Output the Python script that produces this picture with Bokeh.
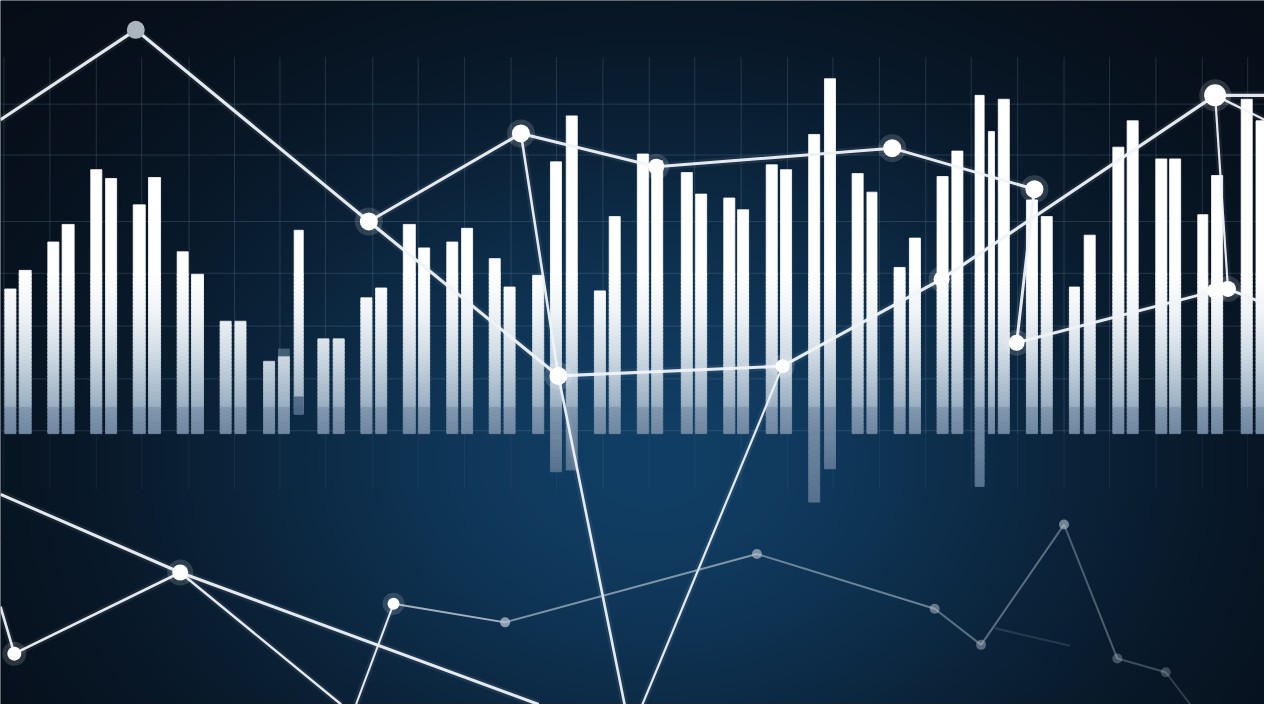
import numpy as np
from bokeh.plotting import figure
from bokeh.models import Range1d
from bokeh.embed import file_html
from bokeh.resources import INLINE

# ---------------- data (pixel units, y downward) ----------------
bar_x = [10, 25, 53.5, 68.5, 97, 112, 140.5, 156, 184.5, 199.5, 228, 243, 272, 287, 302,
         327, 342.5, 370.5, 385.5, 414, 429, 457.5, 472.5, 500.5, 515.5, 544.5, 562.5, 578.5,
         607, 622, 650.5, 665, 695, 709.5, 738, 752, 781, 795.5, 824, 840, 868, 882.5,
         910.5, 926, 954, 969, 991.5, 1003.5, 1016, 1044.5, 1059.5, 1087.5, 1103, 1132,
         1146.5, 1175.5, 1189.5, 1217.5, 1232, 1262, 1276]
bar_w = [12, 13, 12, 13, 12, 12, 13, 13, 12, 13, 12, 12, 12, 12, 10,
         12, 12, 12, 12, 13, 12, 12, 12, 12, 12, 12, 12, 12,
         12, 12, 12, 12, 12, 12, 12, 12, 12, 12, 12, 12, 12, 11,
         12, 12, 12, 12, 10, 7, 12, 12, 12, 11, 12, 12,
         12, 12, 12, 11, 12, 12, 10]
bar_top = [295, 276, 247, 229, 173, 182, 209, 181, 257, 280, 328, 328, 369, 364, 235,
           346, 346, 304, 294, 229, 253, 247, 233, 264, 293, 281, 165, 118,
           297, 221, 157, 164, 176, 198, 202, 214, 168, 173, 137, 80, 177, 196,
           273, 243, 180, 154, 97, 134, 101, 204, 221, 293, 240, 150,
           123, 162, 162, 219, 179, 101, 123]
bar_base = [443] * len(bar_x)
bar_base[14] = 423
bar_low = list(bar_base)
bar_low[26] = 482
bar_low[27] = 480
bar_low[38] = 513
bar_low[39] = 479
bar_low[46] = 497

grid_x = [3.5, 50, 97, 143, 191, 237, 283, 329, 377, 423, 470, 517, 563, 610, 657, 703,
          750, 797, 843, 890, 937, 983, 1030, 1077, 1123, 1170, 1217, 1263]
grid_y = [106, 158, 226, 279, 333, 387, 440]

# upper network
line_a_x = [0, 137, 373, 565, 792, 953, 1230, 1280]
line_a_y = [122, 30, 226, 384, 374, 285, 97, 97]
line_b_x = [373, 527, 664, 903, 1047, 1029, 1230, 1243, 1280]
line_b_y = [226, 136, 170, 151, 193, 350, 297, 295, 310]
line_c_x = [527, 565, 632]
line_c_y = [136, 384, 720]
line_d_x = [650, 792]
line_d_y = [720, 374]
line_e_x = [1230, 1243]
line_e_y = [97, 295]
line_f_x = [1230, 1280]
line_f_y = [97, 122]

# lower network
line_g_x = [0, 182, 545]
line_g_y = [505, 585, 720]
line_h_x = [182, 345]
line_h_y = [585, 720]
line_i_x = [0, 14, 182]
line_i_y = [620, 668, 585]
line_j_x = [360, 398]
line_j_y = [720, 617]
line_k_x = [398, 511, 766, 946, 993, 1077, 1131, 1180, 1205]
line_k_y = [617, 636, 566, 622, 659, 536, 673, 687, 720]
line_k_alpha = [0.8, 0.6, 0.5, 0.42, 0.42, 0.35, 0.28, 0.22]
faint_x = [1007, 1083]
faint_y = [642, 660]

node_x = [373, 527, 565, 664, 792, 903, 953, 1047, 1029, 1230, 1230, 1243, 182, 14, 398]
node_y = [226, 136, 384, 170, 374, 151, 285, 193, 350, 97, 297, 295, 585, 668, 617]
node_r = [9, 9, 9, 8, 7, 9, 8, 9, 8, 11, 8, 8, 8, 7, 6]
grey_node_x = [137]
grey_node_y = [30]
dim_node_x = [511, 766, 946, 993, 1077, 1131, 1180]
dim_node_y = [636, 566, 622, 659, 536, 673, 687]
dim_node_a = [0.75, 0.65, 0.5, 0.45, 0.6, 0.35, 0.3]

# ---------------- figure ----------------
p = figure(width=1264, height=704, x_range=Range1d(0, 1280), y_range=Range1d(720, 0),
           output_backend="svg", toolbar_location=None, min_border=0,
           x_axis_location=None, y_axis_location=None)
p.grid.visible = False
p.outline_line_color = None
p.background_fill_color = "#07101c"
p.border_fill_color = "#07101c"

# background radial glow
GH, GW = 180, 320
gy, gx = np.mgrid[0:GH, 0:GW]
px = (gx + 0.5) * (1280 / GW)
py = (gy + 0.5) * (720 / GH)
d2 = ((px - 660) / 600) ** 2 + ((py - 470) / 450) ** 2
t = np.exp(-1.5 * d2)
edge = np.array([6, 12, 21], dtype=float)
center = np.array([17, 62, 100], dtype=float)
rgb = edge + (center - edge) * t[..., None]
img = np.zeros((GH, GW), dtype=np.uint32)
view = img.view(dtype=np.uint8).reshape((GH, GW, 4))
view[..., 0] = rgb[..., 0].astype(np.uint8)
view[..., 1] = rgb[..., 1].astype(np.uint8)
view[..., 2] = rgb[..., 2].astype(np.uint8)
view[..., 3] = 255
p.image_rgba(image=[img], x=0, y=0, dw=1280, dh=720)

# grid
p.multi_line(xs=[[gx_, gx_] for gx_ in grid_x], ys=[[58, 443]] * len(grid_x),
             line_color="#8fb0cf", line_alpha=0.2, line_width=1)
p.multi_line(xs=[[gx_, gx_] for gx_ in grid_x], ys=[[443, 500]] * len(grid_x),
             line_color="#8fb0cf", line_alpha=0.09, line_width=1)
p.multi_line(xs=[[0, 1280]] * len(grid_y), ys=[[gy_, gy_] for gy_ in grid_y],
             line_color="#8fb0cf", line_alpha=0.2, line_width=1)


# bars with a vertical (absolute) gradient built from thin slices
def hex2rgb(h):
    h = h.lstrip("#")
    return np.array([int(h[i:i + 2], 16) for i in (0, 2, 4)], dtype=float)


stops_y = [0, 280, 320, 360, 395, 415, 416, 443]
stops_c = [hex2rgb(c) for c in ["#ffffff", "#ffffff", "#f0f4f7", "#d3dde6", "#afc0cf",
                                "#9bb0c3", "#8299b0", "#7088a1"]]


def col_at(y):
    r = np.interp(y, stops_y, [c[0] for c in stops_c])
    g = np.interp(y, stops_y, [c[1] for c in stops_c])
    b = np.interp(y, stops_y, [c[2] for c in stops_c])
    return "#%02x%02x%02x" % (int(r), int(g), int(b))


bands = [(0, 280)] + [(a, a + 4) for a in range(280, 444, 4)]
L, R, T, B, C = [], [], [], [], []
for xc, w, top, base in zip(bar_x, bar_w, bar_top, bar_base):
    for a, b in bands:
        t0 = max(a, top)
        b0 = min(b, base)
        if b0 > t0:
            L.append(xc - w / 2 + 0.4)
            R.append(xc + w / 2 - 0.4)
            T.append(t0)
            B.append(min(b0 + 1.0, base))
            C.append(col_at((t0 + b0) / 2))
p.quad(left=L, right=R, top=T, bottom=B, fill_color=C, line_color=C, line_width=0.8)

# extensions below the baseline
L, R, T, B, C = [], [], [], [], []
for xc, w, base, low in zip(bar_x, bar_w, bar_base, bar_low):
    if low > base:
        n = int(np.ceil((low - base) / 6))
        for k in range(n):
            a = base + 6 * k
            b = min(a + 6, low)
            f = (a - base) / max(low - base, 1)
            L.append(xc - w / 2 + 0.4)
            R.append(xc + w / 2 - 0.4)
            T.append(a)
            B.append(min(b + 1.0, low))
            c = (1 - f) * hex2rgb("#6f87a0") + f * hex2rgb("#56718e")
            C.append("#%02x%02x%02x" % tuple(int(v) for v in c))
p.quad(left=L, right=R, top=T, bottom=B, fill_color=C, line_color=C, line_width=0.8)

# floating bar's lower fade and small cap on a short bar
p.quad(left=[bar_x[14] - bar_w[14] / 2], right=[bar_x[14] + bar_w[14] / 2],
       top=[405], bottom=[423], fill_color="#3f5c7b", fill_alpha=0.8, line_color=None)
p.quad(left=[bar_x[13] - bar_w[13] / 2], right=[bar_x[13] + bar_w[13] / 2],
       top=[356], bottom=[364], fill_color="#5d7690", fill_alpha=0.7, line_color=None)

# ---------------- lines ----------------
WHITE = "#eef3f8"
for xs, ys, lw in [(line_a_x, line_a_y, 3.2), (line_b_x, line_b_y, 3.0),
                   (line_c_x, line_c_y, 2.6), (line_d_x, line_d_y, 2.2),
                   (line_e_x, line_e_y, 2.2), (line_f_x, line_f_y, 2.4),
                   (line_g_x, line_g_y, 3.0), (line_h_x, line_h_y, 2.4),
                   (line_i_x, line_i_y, 2.6), (line_j_x, line_j_y, 2.0)]:
    p.line(xs, ys, line_color=WHITE, line_width=lw + 5, line_alpha=0.07)
    p.line(xs, ys, line_color=WHITE, line_width=lw, line_alpha=0.95)

p.multi_line(xs=[[line_k_x[i], line_k_x[i + 1]] for i in range(len(line_k_x) - 1)],
             ys=[[line_k_y[i], line_k_y[i + 1]] for i in range(len(line_k_y) - 1)],
             line_color="#c9d3dd", line_alpha=line_k_alpha, line_width=2)
p.line(faint_x, faint_y, line_color="#c9d3dd", line_alpha=0.15, line_width=2)

# ---------------- nodes ----------------
p.scatter(node_x, node_y, size=[2 * r + 10 for r in node_r], marker="circle",
          fill_color="#ffffff", fill_alpha=0.15, line_color=None)
p.scatter(node_x, node_y, size=[2 * r for r in node_r], marker="circle",
          fill_color="#ffffff", line_color=None)
p.scatter(grey_node_x, grey_node_y, size=18, marker="circle",
          fill_color="#aab4bf", line_color=None)
p.scatter(dim_node_x, dim_node_y, size=10, marker="circle",
          fill_color="#b8c3ce", fill_alpha=dim_node_a, line_color=None)

open("out.html", "w").write(file_html(p, INLINE))
